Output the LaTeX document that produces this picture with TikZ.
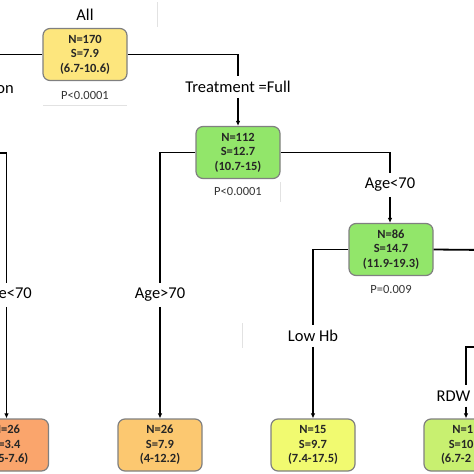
\documentclass[tikz,border=0pt]{standalone}
\usepackage{fontspec}
\setmainfont{Carlito}
\usepackage{xcolor}
\usepackage{tikz}
\usetikzlibrary{positioning}
\usetikzlibrary{arrows.meta}

\definecolor{rootyellow}{RGB}{253,230,125}
\definecolor{splitgreen}{RGB}{146,230,106}
\definecolor{leaforange}{RGB}{250,165,108}
\definecolor{leaflight}{RGB}{252,200,112}
\definecolor{leafyellow}{RGB}{241,250,112}
\definecolor{leafgreen}{RGB}{200,240,112}
\definecolor{boxline}{RGB}{128,128,128}
\definecolor{faintline}{RGB}{226,226,226}

\begin{document}
\begin{tikzpicture}[
          x=1pt,y=-1pt,
          treenode/.style={draw=boxline,line width=1.2pt,rounded corners=7pt,
            minimum width=84pt,minimum height=52pt,inner sep=2pt,align=center,
            text=black!85,font=\fontsize{12.5}{14.5}\selectfont\bfseries},
          cond/.style={inner sep=5pt,font=\fontsize{16.5}{19}\selectfont},
          pval/.style={inner sep=2pt,text=black!80,font=\fontsize{12.5}{15}\selectfont},
          link/.style={line width=1.8pt},
          arrow/.style={link,-{Latex[length=5pt,width=4.5pt]}}
          ]
          \useasboundingbox (0,0) rectangle (474,474);
          \clip (0,0) rectangle (474,474);

          % faint rules
          \draw[faintline,line width=1pt] (157,2) -- (157,27)
          (43,105) -- (127,105)
          (280,182) -- (280,202)
          (242,323) -- (242,348);

          % split nodes
          \node[treenode,fill=rootyellow] (root) at (85,54.5) {N=170\\S=7.9\\(6.7-10.6)};
          \node[treenode,fill=splitgreen] (full) at (238,152.5) {N=112\\S=12.7\\(10.7-15)};
          \node[treenode,fill=splitgreen] (young) at (391,249.5) {N=86\\S=14.7\\(11.9-19.3)};

          % leaves
          \node[treenode,fill=leaforange] (leafA) at (6.5,445) {N=26\\S=3.4\\\phantom{(0.}5-7.6)};
          \node[treenode,fill=leaflight] (leafB) at (160,445) {N=26\\S=7.9\\(4-12.2)};
          \node[treenode,fill=leafyellow] (leafC) at (313,445) {N=15\\S=9.7\\(7.4-17.5)};
          \node[treenode,fill=leafgreen] (leafD) at (466,445) {N=1\phantom{0}\\S=10\phantom{.0}\\(6.7-2\phantom{0.0)}};

          % labels
          \node[cond] (all) at (85,15) {All};
          \node[pval] (p1) at (85,95) {P<0.0001};
          \node[pval] (p2) at (238,191) {P<0.0001};
          \node[pval] (p3) at (391,289) {P=0.009};

          \node[cond] (tfull) at (238,87) {Treatment =Full};
          \node[cond,inner sep=0pt,anchor=east] (tother) at (14,90) {on};
          \node[cond] (agegt) at (160,295) {Age>70};
          \node[cond] (agelt) at (390,185) {Age<70};
          \node[cond] (ageltA) at (6.5,295) {\phantom{Ag}e<70};
          \node[cond] (lowhb) at (313,336) {Low Hb};
          \node[cond] (rdw) at (466,396) {RDW\phantom{>14}};

          % free ends
          \coordinate (rootout) at (-10,54.5);
          \coordinate (leftin) at (-10,153);
          \coordinate (youngout) at (485,250);
          \coordinate (rdwin) at (485,347);

          \draw[link] (root.west) -- (rootout);
          \draw[link] (root.east) -| (tfull.north);
          \draw[arrow] (tfull.south) -- (full.north);

          \draw[link] (full.west) -| (agegt.north);
          \draw[arrow] (agegt.south) -- (leafB.north);
          \draw[link] (full.east) -| (agelt.north);
          \draw[arrow] (agelt.south) -- (agelt |- young.north);

          \draw[link] (young.west) -| (lowhb.north);
          \draw[arrow] (lowhb.south) -- (leafC.north);
          \draw[link] (young.east) -- (youngout);

          \draw[link] (leftin) -| (ageltA.north);
          \draw[arrow] (ageltA.south) -- (leafA.north);
          \draw[link] (rdwin) -| (rdw.north);
          \draw[arrow] (rdw.south) -- (leafD.north);
        \end{tikzpicture}
\end{document}
